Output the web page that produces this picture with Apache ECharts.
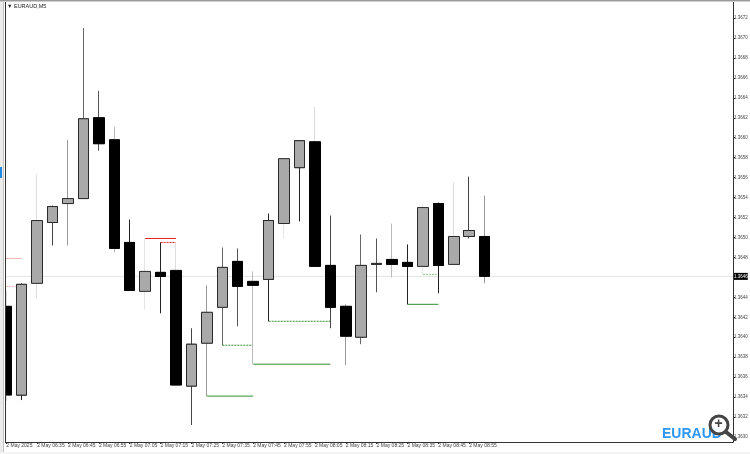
<!DOCTYPE html>
<html><head><meta charset="utf-8">
<style>html,body{margin:0;padding:0;background:#fff}#c{width:750px;height:454px}</style>
<script src="https://cdn.jsdelivr.net/npm/echarts@6/dist/echarts.min.js"></script>
</head><body><div id="c"></div>
<script>
const opens  = [1.36431,1.36342,1.36454,1.36515,1.36534,1.36539,1.36620,1.36598,1.36495,1.36446,1.36465,1.36467,1.36351,1.36394,1.36430,1.36476,1.36456,1.36458,1.36514,1.36570,1.36596,1.36472,1.36431,1.36400,1.36473,1.36478,1.36475,1.36471,1.36534,1.36473,1.36501,1.36501];
const closes = [1.36342,1.36453,1.36517,1.36531,1.36539,1.36619,1.36594,1.36489,1.36447,1.36466,1.36461,1.36352,1.36393,1.36425,1.36470,1.36451,1.36452,1.36517,1.36579,1.36597,1.36471,1.36430,1.36401,1.36472,1.36474,1.36473,1.36471,1.36530,1.36472,1.36501,1.36507,1.36461];
const lows   = [1.36336,1.36337,1.36439,1.36492,1.36492,1.36539,1.36587,1.36485,1.36447,1.36428,1.36424,1.36352,1.36312,1.36341,1.36392,1.36411,1.36373,1.36416,1.36499,1.36516,1.36471,1.36409,1.36372,1.36393,1.36445,1.36460,1.36433,1.36463,1.36444,1.36473,1.36499,1.36454];
const highs  = [1.36447,1.36454,1.36563,1.36532,1.36598,1.36710,1.36647,1.36611,1.36518,1.36499,1.36495,1.36495,1.36409,1.36452,1.36490,1.36489,1.36466,1.36524,1.36580,1.36597,1.36631,1.36522,1.36433,1.36503,1.36499,1.36514,1.36493,1.36533,1.36535,1.36555,1.36561,1.36542];
const lastPrice = 1.36461;
const priceTicks = [1.3630,1.3632,1.3634,1.3636,1.3638,1.3640,1.3642,1.3644,lastPrice,1.3648,1.3650,1.3652,1.3654,1.3656,1.3658,1.3660,1.3662,1.3664,1.3666,1.3668,1.3670,1.3672];
const timeTicks = [0,2,4,6,8,10,12,14,16,18,20,22,24,26,28,30];
const timeLabels = ['2 May 2025','2 May 06:35','2 May 06:45','2 May 06:55','2 May 07:05','2 May 07:15','2 May 07:25','2 May 07:35','2 May 07:45','2 May 07:55','2 May 08:05','2 May 08:15','2 May 08:25','2 May 08:35','2 May 08:45','2 May 08:55'];
const redSolid   = [[9,11,1.36499]];
const redDotted  = [[10,11,1.36495]];
const pinkSolid  = [[-1,1,1.36479]];
const pinkDotted = [[-1,1,1.36451]];
const greenSolid = [[13,16,1.36341],[16,21,1.36373],[26,28,1.36433]];
const greenDotted= [[14,16,1.36392],[17,21,1.36416]];
const paleGreenDotted = [[27,28,1.36463]];

const wickShades = ['#ddd','#222','#ddd','#444','#999','#666','#555','#bbb','#222','#e5e5e5','#222','#ddd','#444','#999','#666','#555','#bbb','#222','#e5e5e5','#222','#ddd','#444','#999','#666','#555','#bbb','#222','#e5e5e5','#222','#ddd','#444','#999'];
const GREY='#a9a9a9', DARK='#2a2a2a';
const wickData = opens.map((o,i)=>({value:[i,o,closes[i],lows[i],highs[i]],
  itemStyle:{color:wickShades[i],color0:wickShades[i],borderColor:wickShades[i],borderColor0:wickShades[i],borderColorDoji:wickShades[i]}}));
const bodyData = opens.map((o,i)=>[i,o,closes[i],Math.min(o,closes[i]),Math.max(o,closes[i])]);

function levels(segs,color,type,width){
  return segs.map(s=>({type:'line',data:[[s[0],s[2]],[s[1],s[2]]],symbol:'none',silent:true,z:1,
    lineStyle:{color,type,width:width||1},animation:false}));
}
const FONT='"Liberation Sans",Arial,sans-serif';
const chart=echarts.init(document.getElementById('c'),null,{renderer:'canvas'});
const x0=6.3, step=15.43, L=5, R=733, T=2, B=442;
const pxPerUnit=99762;
const yMin=1.3630-(B-437)/pxPerUnit, yMax=1.3630+(437-T)/pxPerUnit;
const DOT=[2,1];
chart.setOption({
  animation:false,backgroundColor:'#fff',
  grid:{left:L,top:T,width:R-L,height:B-T,show:false,containLabel:false,outerBoundsMode:'none'},
  title:{text:'▼ EURAUD,M5',left:7,top:3,padding:0,textStyle:{fontSize:5.5,fontWeight:'normal',color:'#222',fontFamily:FONT}},
  xAxis:{type:'value',min:(L-x0)/step,max:(R-x0)/step,position:'bottom',
    splitLine:{show:false},
    axisLine:{show:true,onZero:false,lineStyle:{color:'#333',width:1}},
    axisTick:{show:true,customValues:timeTicks,length:2,inside:false,lineStyle:{color:'#333'}},
    axisLabel:{customValues:timeTicks,showMinLabel:true,showMaxLabel:true,margin:1,fontSize:5,color:'#444',fontFamily:FONT,align:'left',
      formatter:v=>timeLabels[timeTicks.indexOf(Math.round(v))]||''}},
  yAxis:{type:'value',min:yMin,max:yMax,position:'right',scale:true,
    splitLine:{show:false},
    axisLine:{show:true,onZero:false,lineStyle:{color:'#333',width:1}},
    axisTick:{show:true,customValues:priceTicks,length:2,lineStyle:{color:'#333'}},
    axisLabel:{customValues:priceTicks,margin:1,fontSize:4.5,color:'#444',fontFamily:FONT,
      formatter:v=>Math.abs(v-lastPrice)<1e-7?'{cur|'+v.toFixed(4)+'}':v.toFixed(4),
      rich:{cur:{backgroundColor:'#000',color:'#fff',fontSize:4.5,fontFamily:FONT,padding:[1,0,1,0]}}}},
  series:[
    {type:'line',data:[[(L-x0)/step,lastPrice],[(R-x0)/step,lastPrice]],symbol:'none',silent:true,z:0,
      lineStyle:{color:'#e4e4e4',width:1}},
    ...levels(pinkSolid,'#f7b5b5','solid'),
    ...levels(pinkDotted,'#f7b5b5',DOT),
    ...levels(redSolid,'#e62020','solid'),
    ...levels(redDotted,'#e62020',DOT),
    ...levels(greenSolid,'#2f8f2f','solid'),
    ...levels(greenDotted,'#2f8f2f',DOT),
    ...levels(paleGreenDotted,'#8fc98f',DOT),
    {type:'candlestick',data:wickData,barWidth:11,z:3,silent:true,clip:true,itemStyle:{borderWidth:1}},
    {type:'candlestick',data:bodyData,barWidth:11,z:4,silent:true,clip:true,
      itemStyle:{color:GREY,color0:'#000',borderColor:DARK,borderColor0:'#000',borderColorDoji:'#000',borderWidth:1}}
  ],
  graphic:[
    {type:'rect',silent:true,z:50,shape:{x:0,y:0,width:5,height:454},style:{fill:'#fff'}},
    {type:'rect',silent:true,z:50,shape:{x:0,y:0,width:3,height:454},style:{fill:'#ececec'}},
    {type:'rect',silent:true,z:50,shape:{x:3,y:2,width:1,height:450},style:{fill:'#c4c4c4'}},
    {type:'rect',silent:true,z:50,shape:{x:0,y:452,width:750,height:2},style:{fill:'#f4f4f4'}},
    {type:'rect',silent:true,z:50,shape:{x:0,y:0,width:750,height:1},style:{fill:'#9a9a9a'}},
    {type:'rect',silent:true,z:50,shape:{x:0,y:1,width:750,height:1},style:{fill:'#cfcfcf'}},
    {type:'rect',silent:true,z:50,shape:{x:5,y:2,width:1,height:440},style:{fill:'#333'}},
    {type:'rect',silent:true,z:50,shape:{x:0,y:167,width:2,height:11},style:{fill:'#1e88e5'}},
    {type:'text',silent:true,z:50,left:662,top:427,style:{text:'EURAUD',fill:'#2e96f5',font:'bold 14px "Liberation Sans",Arial,sans-serif'}},
    {type:'circle',silent:true,z:51,shape:{cx:719,cy:425,r:9},style:{fill:'rgba(255,255,255,0.92)',stroke:'#444',lineWidth:3}},
    {type:'line',silent:true,z:51,shape:{x1:726,y1:432,x2:735,y2:439},style:{stroke:'#444',lineWidth:4,lineCap:'round'}},
    {type:'text',silent:true,z:52,x:714.5,y:417,style:{text:'+',fill:'#444',font:'bold 14px "Liberation Sans",Arial,sans-serif'}}
  ]
});
</script></body></html>
